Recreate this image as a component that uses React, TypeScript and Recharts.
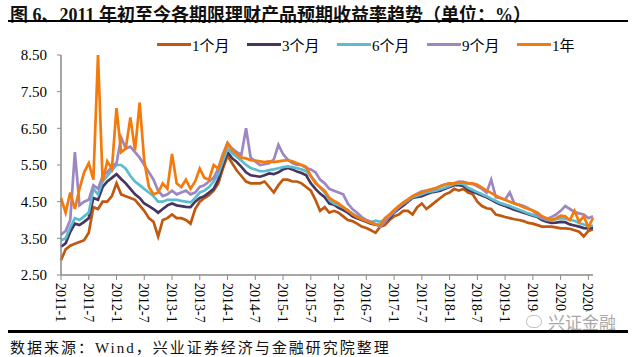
import { LineChart, Line, XAxis, YAxis } from "recharts";

// monthly, 2011-1 .. 2020-8
const months: string[] = [];
for (let y = 2011; y <= 2020; y++) {
  for (let m = 1; m <= 12; m++) {
    if (y === 2020 && m > 8) break;
    months.push(`${y}-${m}`);
  }
}

const yTicks = [2.5, 3.5, 4.5, 5.5, 6.5, 7.5, 8.5];

const r1m = [
  2.9, 3.2, 3.3, 3.35, 3.4, 3.45, 3.65, 4.35, 4.3, 4.5, 4.5, 4.65,
  5.0, 4.7, 4.65, 4.6, 4.55, 4.4, 4.25, 4.05, 3.95, 3.55, 4.0, 4.05,
  4.15, 4.05, 4.05, 4.0, 3.9, 4.3, 4.5, 4.6, 4.68, 4.8, 5.0, 5.4,
  5.75, 5.55, 5.35, 5.2, 5.05, 5.0, 5.0, 5.0, 5.05, 4.9, 4.75, 4.95,
  5.1, 5.1, 5.05, 5.05, 5.0, 4.9, 4.8, 4.55, 4.25, 4.35, 4.2, 4.25,
  4.2, 4.1, 4.0, 3.97, 3.9, 3.82, 3.78, 3.72, 3.65, 3.82, 3.86, 4.0,
  4.1, 4.15, 4.25, 4.25, 4.15, 4.35, 4.45, 4.3, 4.4, 4.5, 4.6, 4.7,
  4.75, 4.85, 4.8, 4.85, 4.75, 4.7, 4.5, 4.38, 4.32, 4.3, 4.15, 4.12,
  4.08, 4.05, 4.02, 4.0, 3.97, 3.92, 3.9, 3.86, 3.82, 3.82, 3.82, 3.8,
  3.77, 3.77, 3.76, 3.72, 3.68, 3.55, 3.7, 3.75,
];

const r3m = [
  3.27, 3.36, 3.68, 3.9, 3.86, 3.95, 4.05, 4.6, 4.55, 4.9, 5.05, 5.15,
  5.25, 5.12, 5.0, 4.85, 4.7, 4.6, 4.45, 4.38, 4.3, 4.2, 4.3, 4.4,
  4.45, 4.4, 4.38, 4.36, 4.35, 4.5, 4.6, 4.65, 4.75, 4.85, 5.1, 5.5,
  5.85, 5.68, 5.58, 5.45, 5.3, 5.22, 5.2, 5.18, 5.22, 5.27, 5.25, 5.3,
  5.38, 5.42, 5.38, 5.32, 5.28, 5.22, 5.0, 4.85, 4.72, 4.62, 4.45, 4.42,
  4.33, 4.27, 4.2, 4.1, 4.05, 4.0, 3.95, 3.9, 3.87, 3.86, 3.95, 4.05,
  4.2, 4.3, 4.4, 4.5, 4.6, 4.63, 4.65, 4.7, 4.75, 4.77, 4.8, 4.85,
  4.9, 4.95, 4.95, 4.93, 4.82, 4.77, 4.72, 4.67, 4.62, 4.55, 4.48, 4.42,
  4.38, 4.33, 4.28, 4.24, 4.2, 4.16, 4.12, 4.08, 4.0, 3.95, 3.92, 3.93,
  3.95, 3.94, 3.88, 3.85, 3.82, 3.78, 3.77, 3.8,
];

const r6m = [
  3.45, 3.5, 3.8, 4.05, 4.0, 4.1, 4.2, 4.85, 4.7, 5.05, 5.2, 5.35,
  5.5, 5.5, 5.4, 5.2, 5.05, 4.95, 4.85, 4.75, 4.65, 4.5, 4.5, 4.55,
  4.55, 4.55, 4.52, 4.5, 4.48, 4.6, 4.75, 4.8, 4.9, 5.05, 5.25, 5.6,
  5.95, 5.82, 5.72, 5.62, 5.5, 5.42, 5.38, 5.33, 5.33, 5.36, 5.38, 5.41,
  5.44, 5.46, 5.44, 5.41, 5.38, 5.33, 5.2, 5.05, 4.88, 4.75, 4.55, 4.45,
  4.4, 4.35, 4.25, 4.18, 4.1, 4.05, 3.98, 3.94, 3.98, 3.95, 4.0, 4.1,
  4.22, 4.35, 4.45, 4.53, 4.62, 4.66, 4.7, 4.75, 4.78, 4.8, 4.84, 4.88,
  4.93, 4.98, 5.0, 4.98, 4.88, 4.82, 4.76, 4.7, 4.65, 4.58, 4.52, 4.46,
  4.42, 4.38, 4.33, 4.28, 4.23, 4.18, 4.14, 4.1, 4.05, 4.0, 3.98, 4.02,
  4.05, 4.04, 4.0, 3.98, 3.92, 3.88, 3.82, 3.85,
];

const r9m = [
  3.6, 3.7, 4.0, 5.85, 4.4, 4.5, 4.55, 4.95, 4.85, 5.2, 5.3, 5.45,
  5.55, 6.25, 5.95, 6.0, 5.85, 5.7, 5.5, 5.3, 5.1, 4.8, 4.65, 4.7,
  4.8, 4.7, 4.75, 4.8, 4.7, 4.75, 4.9, 4.95, 5.05, 5.15, 5.4, 5.8,
  6.1, 5.95, 5.85, 5.78, 6.5, 5.7, 5.6, 5.5, 5.52, 5.55, 5.65, 6.05,
  5.8, 5.65, 5.55, 5.5, 5.5, 5.42, 5.38, 5.3, 5.1, 5.0, 4.85, 4.8,
  4.75, 4.7, 4.45, 4.3, 4.2, 4.08, 4.0, 3.95, 3.88, 3.82, 3.95, 4.1,
  4.25, 4.35, 4.45, 4.55, 4.65, 4.72, 4.78, 4.8, 4.83, 4.86, 4.92, 4.97,
  5.0, 5.0, 5.05, 5.04, 5.0, 4.98, 4.92, 4.85, 4.75, 5.1, 4.62, 4.6,
  4.55, 4.75, 4.45, 4.42, 4.38, 4.32, 4.25, 4.15, 4.05, 4.02, 4.08, 4.15,
  4.25, 4.38, 4.3, 4.22, 4.18, 4.15, 4.05, 4.1,
];

const r1y = [
  4.6, 4.2, 4.75, 4.3, 4.85, 5.3, 5.55, 5.1, 8.5, 5.05, 5.6, 5.4,
  7.05, 5.85, 5.95, 6.8, 5.9, 7.2, 5.6, 4.9, 4.7, 4.75, 5.0, 4.85,
  5.8, 5.0, 4.9, 5.1, 4.85, 5.05, 5.4, 5.15, 5.1, 5.5, 5.4, 5.75,
  6.1, 5.9, 5.8, 5.7, 5.68, 5.63, 5.62, 5.6, 5.58, 5.6, 5.58, 5.6,
  5.62, 5.63, 5.6, 5.55, 5.5, 5.45, 5.2, 5.0, 4.9, 4.8, 4.6, 4.52,
  4.45, 4.35, 4.27, 4.15, 4.08, 4.02, 3.97, 3.92, 3.88, 3.86, 4.05, 4.15,
  4.27, 4.38, 4.48, 4.56, 4.65, 4.7, 4.75, 4.8, 4.84, 4.87, 4.93, 4.97,
  5.0, 5.0, 5.02, 5.03, 5.0, 5.0, 4.96, 4.88, 4.8, 4.74, 4.66, 4.6,
  4.55, 4.5, 4.45, 4.41, 4.35, 4.3, 4.26, 4.2, 4.1, 4.05, 4.0, 4.05,
  4.12, 4.1, 4.0, 4.25, 3.95, 4.1, 3.8, 4.05,
];

const series = [
  { key: "m1", name: "1个月", color: "#C0590F", values: r1m },
  { key: "m3", name: "3个月", color: "#45355F", values: r3m },
  { key: "m6", name: "6个月", color: "#5BBCD0", values: r6m },
  { key: "m9", name: "9个月", color: "#9C87C2", values: r9m },
  { key: "y1", name: "1年", color: "#F47A0C", values: r1y },
];

const data = months.map((month, i) => {
  const row: Record<string, string | number> = { month };
  series.forEach((s) => {
    row[s.key] = s.values[i];
  });
  return row;
});

const FONT = "'Liberation Serif', 'Noto Sans CJK SC', serif";

const XTick = (props: any) => {
  const { x, y, payload } = props;
  return (
    <g transform={`translate(${x},${y})`}>
      <text
        transform="rotate(90)"
        x={0}
        y={0}
        dy="0.35em"
        textAnchor="start"
        fontSize={14}
        fontFamily={FONT}
        fill="#000"
      >
        {payload.value}
      </text>
    </g>
  );
};

export default function App() {
  return (
    <div
      style={{
        position: "absolute",
        left: 0,
        top: 0,
        width: 634,
        height: 357,
        background: "#fff",
        fontFamily: FONT,
        overflow: "hidden",
      }}
    >
      <div
        style={{
          position: "absolute",
          left: 10,
          top: 0,
          fontSize: 18,
          fontWeight: "bold",
          color: "#111",
          whiteSpace: "nowrap",
        }}
      >
        图 6、2011 年初至今各期限理财产品预期收益率趋势（单位：%）
      </div>
      <div style={{ position: "absolute", left: 8, top: 20, width: 620, height: 2, background: "#000" }} />

      <LineChart
        width={634}
        height={357}
        data={data}
        margin={{ top: 55, right: 41, bottom: 30, left: 0 }}
        style={{ position: "absolute", left: 0, top: 0 }}
      >
        <XAxis
          dataKey="month"
          interval={5}
          tick={<XTick />}
          tickSize={5}
          tickMargin={3}
          height={52}
          axisLine={{ stroke: "#8a8a8a", strokeWidth: 1.5 }}
          tickLine={{ stroke: "#8a8a8a" }}
        />
        <YAxis
          domain={[2.5, 8.5]}
          ticks={yTicks}
          width={61}
          tickSize={4}
          tickMargin={10}
          tickFormatter={(v: number) => v.toFixed(2)}
          tick={{ fontSize: 15, fill: "#000", fontFamily: FONT }}
          axisLine={{ stroke: "#8a8a8a", strokeWidth: 1.5 }}
          tickLine={{ stroke: "#8a8a8a" }}
        />
        {series.map((s) => (
          <Line
            key={s.key}
            dataKey={s.key}
            name={s.name}
            stroke={s.color}
            strokeWidth={2.7}
            dot={false}
            type="linear"
            isAnimationActive={false}
          />
        ))}
      </LineChart>

      <div style={{ position: "absolute", left: 157, top: 34, display: "flex" }}>
        {series.map((s) => (
          <div key={s.key} style={{ width: 90, display: "flex", alignItems: "center", fontSize: 15, color: "#000" }}>
            <span style={{ display: "inline-block", width: 34, height: 3, background: s.color, marginRight: 1 }} />
            <span>{s.name}</span>
          </div>
        ))}
      </div>

      <div
        style={{
          position: "absolute",
          left: 518,
          top: 312,
          width: 104,
          height: 19,
          background: "#fff",
          display: "flex",
          alignItems: "center",
          color: "#a8a8a8",
          fontSize: 17,
        }}
      >
        <span
          style={{
            display: "inline-block",
            width: 14,
            height: 11,
            border: "1px solid #bdbdbd",
            borderRadius: 7,
            marginLeft: 8,
            marginRight: 6,
          }}
        />
        兴证金融
      </div>

      <div style={{ position: "absolute", left: 8, top: 330, width: 620, height: 2.5, background: "#000" }} />
      <div
        style={{
          position: "absolute",
          left: 10,
          top: 336,
          fontSize: 15,
          letterSpacing: 2,
          color: "#111",
          whiteSpace: "nowrap",
        }}
      >
        数据来源：Wind，兴业证券经济与金融研究院整理
      </div>
    </div>
  );
}
